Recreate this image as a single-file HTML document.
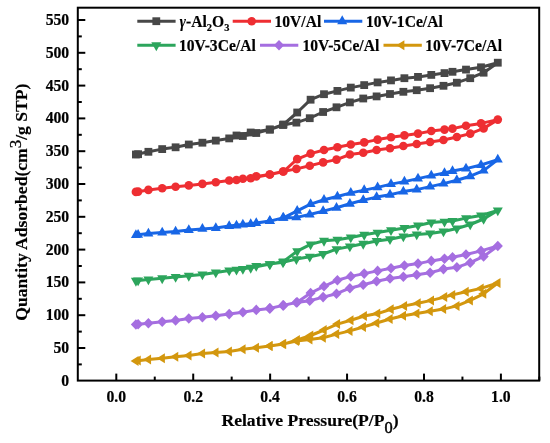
<!DOCTYPE html>
<html><head><meta charset="utf-8"><title>Isotherms</title>
<style>html,body{margin:0;padding:0;background:#fff;width:550px;height:443px;overflow:hidden}svg{display:block}</style>
</head><body>
<svg width="550" height="443" viewBox="0 0 550 443">
<style>
text{font-family:"Liberation Serif","Times New Roman",serif;font-weight:bold;fill:#000;stroke:#000;stroke-width:0.18px}
.tl{font-size:15.7px}
.at{font-size:17.6px}
.lg{font-size:15.6px}
.ls{font-size:10.5px}
.gm{font-style:italic;font-weight:bold;stroke-width:0px}
.sub{font-size:16.4px;font-weight:normal;stroke-width:0.5px}
.sup{font-size:16.8px;font-weight:normal;stroke-width:0.3px}
</style>
<rect width="550" height="443" fill="#fff"/>
<path d="M135.90,154.50 L148.40,151.80 L162.20,149.10 L175.60,147.30 L188.80,144.50 L202.40,142.70 L215.80,140.60 L229.20,138.40 L242.88,136.00 L256.26,133.00 L269.63,129.60 L283.00,125.00 L296.38,122.60 L309.75,118.20 L323.12,112.00 L336.50,107.30 L349.87,102.40 L363.24,98.50 L376.61,96.40 L389.99,94.00 L403.36,91.80 L416.73,90.20 L430.11,88.20 L443.48,85.80 L456.85,82.70 L470.23,78.20 L483.60,72.70 L497.80,62.70 L481.00,67.30 L466.00,69.60 L452.50,71.80 L444.50,73.10 L431.30,74.90 L418.00,76.90 L404.40,78.20 L391.00,80.40 L377.60,82.40 L364.20,85.10 L350.80,87.60 L337.40,90.90 L324.00,94.20 L310.60,99.70 L297.20,112.50 L283.50,124.50 L270.00,129.50 L250.70,132.50 L236.50,135.50" fill="none" stroke="#474747" stroke-width="3" stroke-linejoin="round"/>
<rect x="134.20" y="150.30" width="7.8" height="7.8" fill="#474747"/>
<rect x="132.00" y="150.60" width="7.8" height="7.8" fill="#474747"/>
<rect x="144.50" y="147.90" width="7.8" height="7.8" fill="#474747"/>
<rect x="158.30" y="145.20" width="7.8" height="7.8" fill="#474747"/>
<rect x="171.70" y="143.40" width="7.8" height="7.8" fill="#474747"/>
<rect x="184.90" y="140.60" width="7.8" height="7.8" fill="#474747"/>
<rect x="198.50" y="138.80" width="7.8" height="7.8" fill="#474747"/>
<rect x="211.90" y="136.70" width="7.8" height="7.8" fill="#474747"/>
<rect x="225.30" y="134.50" width="7.8" height="7.8" fill="#474747"/>
<rect x="238.98" y="132.10" width="7.8" height="7.8" fill="#474747"/>
<rect x="252.36" y="129.10" width="7.8" height="7.8" fill="#474747"/>
<rect x="265.73" y="125.70" width="7.8" height="7.8" fill="#474747"/>
<rect x="279.10" y="121.10" width="7.8" height="7.8" fill="#474747"/>
<rect x="292.48" y="118.70" width="7.8" height="7.8" fill="#474747"/>
<rect x="305.85" y="114.30" width="7.8" height="7.8" fill="#474747"/>
<rect x="319.22" y="108.10" width="7.8" height="7.8" fill="#474747"/>
<rect x="332.60" y="103.40" width="7.8" height="7.8" fill="#474747"/>
<rect x="345.97" y="98.50" width="7.8" height="7.8" fill="#474747"/>
<rect x="359.34" y="94.60" width="7.8" height="7.8" fill="#474747"/>
<rect x="372.71" y="92.50" width="7.8" height="7.8" fill="#474747"/>
<rect x="386.09" y="90.10" width="7.8" height="7.8" fill="#474747"/>
<rect x="399.46" y="87.90" width="7.8" height="7.8" fill="#474747"/>
<rect x="412.83" y="86.30" width="7.8" height="7.8" fill="#474747"/>
<rect x="426.21" y="84.30" width="7.8" height="7.8" fill="#474747"/>
<rect x="439.58" y="81.90" width="7.8" height="7.8" fill="#474747"/>
<rect x="452.95" y="78.80" width="7.8" height="7.8" fill="#474747"/>
<rect x="466.33" y="74.30" width="7.8" height="7.8" fill="#474747"/>
<rect x="479.70" y="68.80" width="7.8" height="7.8" fill="#474747"/>
<rect x="493.90" y="58.80" width="7.8" height="7.8" fill="#474747"/>
<rect x="477.10" y="63.40" width="7.8" height="7.8" fill="#474747"/>
<rect x="462.10" y="65.70" width="7.8" height="7.8" fill="#474747"/>
<rect x="448.60" y="67.90" width="7.8" height="7.8" fill="#474747"/>
<rect x="440.60" y="69.20" width="7.8" height="7.8" fill="#474747"/>
<rect x="427.40" y="71.00" width="7.8" height="7.8" fill="#474747"/>
<rect x="414.10" y="73.00" width="7.8" height="7.8" fill="#474747"/>
<rect x="400.50" y="74.30" width="7.8" height="7.8" fill="#474747"/>
<rect x="387.10" y="76.50" width="7.8" height="7.8" fill="#474747"/>
<rect x="373.70" y="78.50" width="7.8" height="7.8" fill="#474747"/>
<rect x="360.30" y="81.20" width="7.8" height="7.8" fill="#474747"/>
<rect x="346.90" y="83.70" width="7.8" height="7.8" fill="#474747"/>
<rect x="333.50" y="87.00" width="7.8" height="7.8" fill="#474747"/>
<rect x="320.10" y="90.30" width="7.8" height="7.8" fill="#474747"/>
<rect x="306.70" y="95.80" width="7.8" height="7.8" fill="#474747"/>
<rect x="293.30" y="108.60" width="7.8" height="7.8" fill="#474747"/>
<rect x="279.60" y="120.60" width="7.8" height="7.8" fill="#474747"/>
<rect x="266.10" y="125.60" width="7.8" height="7.8" fill="#474747"/>
<rect x="246.80" y="128.60" width="7.8" height="7.8" fill="#474747"/>
<rect x="232.60" y="131.60" width="7.8" height="7.8" fill="#474747"/>
<path d="M135.90,191.90 L148.40,189.90 L162.20,188.30 L175.60,186.80 L188.80,185.40 L202.40,183.90 L215.80,182.30 L229.20,180.50 L242.88,178.70 L256.26,176.40 L269.63,174.50 L283.00,171.50 L296.38,168.90 L309.75,165.80 L323.12,162.40 L336.50,159.60 L349.87,154.50 L363.24,152.70 L376.61,150.00 L389.99,148.20 L403.36,146.00 L416.73,144.00 L430.11,142.00 L443.48,140.00 L456.85,137.00 L470.23,133.60 L483.60,128.40 L497.80,119.60 L481.00,123.40 L466.00,125.80 L452.50,128.60 L444.50,129.60 L431.30,131.00 L418.00,133.60 L404.40,135.40 L391.00,137.30 L377.60,139.60 L364.20,142.40 L350.80,144.50 L337.40,147.30 L324.00,150.00 L310.60,153.60 L297.20,159.10 L283.50,171.50 L270.00,174.50 L250.70,178.20 L236.50,180.00" fill="none" stroke="#ee2e32" stroke-width="3" stroke-linejoin="round"/>
<circle cx="138.10" cy="191.60" r="4.3" fill="#ee2e32"/>
<circle cx="135.90" cy="191.90" r="4.3" fill="#ee2e32"/>
<circle cx="148.40" cy="189.90" r="4.3" fill="#ee2e32"/>
<circle cx="162.20" cy="188.30" r="4.3" fill="#ee2e32"/>
<circle cx="175.60" cy="186.80" r="4.3" fill="#ee2e32"/>
<circle cx="188.80" cy="185.40" r="4.3" fill="#ee2e32"/>
<circle cx="202.40" cy="183.90" r="4.3" fill="#ee2e32"/>
<circle cx="215.80" cy="182.30" r="4.3" fill="#ee2e32"/>
<circle cx="229.20" cy="180.50" r="4.3" fill="#ee2e32"/>
<circle cx="242.88" cy="178.70" r="4.3" fill="#ee2e32"/>
<circle cx="256.26" cy="176.40" r="4.3" fill="#ee2e32"/>
<circle cx="269.63" cy="174.50" r="4.3" fill="#ee2e32"/>
<circle cx="283.00" cy="171.50" r="4.3" fill="#ee2e32"/>
<circle cx="296.38" cy="168.90" r="4.3" fill="#ee2e32"/>
<circle cx="309.75" cy="165.80" r="4.3" fill="#ee2e32"/>
<circle cx="323.12" cy="162.40" r="4.3" fill="#ee2e32"/>
<circle cx="336.50" cy="159.60" r="4.3" fill="#ee2e32"/>
<circle cx="349.87" cy="154.50" r="4.3" fill="#ee2e32"/>
<circle cx="363.24" cy="152.70" r="4.3" fill="#ee2e32"/>
<circle cx="376.61" cy="150.00" r="4.3" fill="#ee2e32"/>
<circle cx="389.99" cy="148.20" r="4.3" fill="#ee2e32"/>
<circle cx="403.36" cy="146.00" r="4.3" fill="#ee2e32"/>
<circle cx="416.73" cy="144.00" r="4.3" fill="#ee2e32"/>
<circle cx="430.11" cy="142.00" r="4.3" fill="#ee2e32"/>
<circle cx="443.48" cy="140.00" r="4.3" fill="#ee2e32"/>
<circle cx="456.85" cy="137.00" r="4.3" fill="#ee2e32"/>
<circle cx="470.23" cy="133.60" r="4.3" fill="#ee2e32"/>
<circle cx="483.60" cy="128.40" r="4.3" fill="#ee2e32"/>
<circle cx="497.80" cy="119.60" r="4.3" fill="#ee2e32"/>
<circle cx="481.00" cy="123.40" r="4.3" fill="#ee2e32"/>
<circle cx="466.00" cy="125.80" r="4.3" fill="#ee2e32"/>
<circle cx="452.50" cy="128.60" r="4.3" fill="#ee2e32"/>
<circle cx="444.50" cy="129.60" r="4.3" fill="#ee2e32"/>
<circle cx="431.30" cy="131.00" r="4.3" fill="#ee2e32"/>
<circle cx="418.00" cy="133.60" r="4.3" fill="#ee2e32"/>
<circle cx="404.40" cy="135.40" r="4.3" fill="#ee2e32"/>
<circle cx="391.00" cy="137.30" r="4.3" fill="#ee2e32"/>
<circle cx="377.60" cy="139.60" r="4.3" fill="#ee2e32"/>
<circle cx="364.20" cy="142.40" r="4.3" fill="#ee2e32"/>
<circle cx="350.80" cy="144.50" r="4.3" fill="#ee2e32"/>
<circle cx="337.40" cy="147.30" r="4.3" fill="#ee2e32"/>
<circle cx="324.00" cy="150.00" r="4.3" fill="#ee2e32"/>
<circle cx="310.60" cy="153.60" r="4.3" fill="#ee2e32"/>
<circle cx="297.20" cy="159.10" r="4.3" fill="#ee2e32"/>
<circle cx="283.50" cy="171.50" r="4.3" fill="#ee2e32"/>
<circle cx="270.00" cy="174.50" r="4.3" fill="#ee2e32"/>
<circle cx="250.70" cy="178.20" r="4.3" fill="#ee2e32"/>
<circle cx="236.50" cy="180.00" r="4.3" fill="#ee2e32"/>
<path d="M135.90,235.10 L148.40,233.60 L162.20,232.60 L175.60,231.60 L188.80,230.10 L202.40,228.90 L215.80,228.00 L229.20,226.10 L242.88,224.50 L256.26,223.10 L269.63,221.10 L283.00,217.90 L296.38,217.40 L309.75,214.50 L323.12,211.10 L336.50,207.80 L349.87,203.80 L363.24,200.10 L376.61,197.10 L389.99,194.70 L403.36,191.60 L416.73,189.60 L430.11,186.60 L443.48,183.60 L456.85,180.20 L470.23,176.20 L483.60,170.60 L497.80,159.60 L481.00,165.00 L466.00,168.60 L452.50,171.00 L444.50,173.00 L431.30,175.60 L418.00,178.60 L404.40,181.60 L391.00,184.10 L377.60,187.40 L364.20,190.10 L350.80,192.90 L337.40,196.50 L324.00,199.80 L310.60,204.10 L297.20,210.90 L283.50,217.90 L270.00,221.10 L250.70,224.00 L236.50,225.60" fill="none" stroke="#1866e6" stroke-width="3" stroke-linejoin="round"/>
<polygon points="138.10,228.93 143.10,237.73 133.10,237.73" fill="#1866e6"/>
<polygon points="135.90,229.23 140.90,238.03 130.90,238.03" fill="#1866e6"/>
<polygon points="148.40,227.73 153.40,236.53 143.40,236.53" fill="#1866e6"/>
<polygon points="162.20,226.73 167.20,235.53 157.20,235.53" fill="#1866e6"/>
<polygon points="175.60,225.73 180.60,234.53 170.60,234.53" fill="#1866e6"/>
<polygon points="188.80,224.23 193.80,233.03 183.80,233.03" fill="#1866e6"/>
<polygon points="202.40,223.03 207.40,231.83 197.40,231.83" fill="#1866e6"/>
<polygon points="215.80,222.13 220.80,230.93 210.80,230.93" fill="#1866e6"/>
<polygon points="229.20,220.23 234.20,229.03 224.20,229.03" fill="#1866e6"/>
<polygon points="242.88,218.63 247.88,227.43 237.88,227.43" fill="#1866e6"/>
<polygon points="256.26,217.23 261.26,226.03 251.26,226.03" fill="#1866e6"/>
<polygon points="269.63,215.23 274.63,224.03 264.63,224.03" fill="#1866e6"/>
<polygon points="283.00,212.03 288.00,220.83 278.00,220.83" fill="#1866e6"/>
<polygon points="296.38,211.53 301.38,220.33 291.38,220.33" fill="#1866e6"/>
<polygon points="309.75,208.63 314.75,217.43 304.75,217.43" fill="#1866e6"/>
<polygon points="323.12,205.23 328.12,214.03 318.12,214.03" fill="#1866e6"/>
<polygon points="336.50,201.93 341.50,210.73 331.50,210.73" fill="#1866e6"/>
<polygon points="349.87,197.93 354.87,206.73 344.87,206.73" fill="#1866e6"/>
<polygon points="363.24,194.23 368.24,203.03 358.24,203.03" fill="#1866e6"/>
<polygon points="376.61,191.23 381.61,200.03 371.61,200.03" fill="#1866e6"/>
<polygon points="389.99,188.83 394.99,197.63 384.99,197.63" fill="#1866e6"/>
<polygon points="403.36,185.73 408.36,194.53 398.36,194.53" fill="#1866e6"/>
<polygon points="416.73,183.73 421.73,192.53 411.73,192.53" fill="#1866e6"/>
<polygon points="430.11,180.73 435.11,189.53 425.11,189.53" fill="#1866e6"/>
<polygon points="443.48,177.73 448.48,186.53 438.48,186.53" fill="#1866e6"/>
<polygon points="456.85,174.33 461.85,183.13 451.85,183.13" fill="#1866e6"/>
<polygon points="470.23,170.33 475.23,179.13 465.23,179.13" fill="#1866e6"/>
<polygon points="483.60,164.73 488.60,173.53 478.60,173.53" fill="#1866e6"/>
<polygon points="497.80,153.73 502.80,162.53 492.80,162.53" fill="#1866e6"/>
<polygon points="481.00,159.13 486.00,167.93 476.00,167.93" fill="#1866e6"/>
<polygon points="466.00,162.73 471.00,171.53 461.00,171.53" fill="#1866e6"/>
<polygon points="452.50,165.13 457.50,173.93 447.50,173.93" fill="#1866e6"/>
<polygon points="444.50,167.13 449.50,175.93 439.50,175.93" fill="#1866e6"/>
<polygon points="431.30,169.73 436.30,178.53 426.30,178.53" fill="#1866e6"/>
<polygon points="418.00,172.73 423.00,181.53 413.00,181.53" fill="#1866e6"/>
<polygon points="404.40,175.73 409.40,184.53 399.40,184.53" fill="#1866e6"/>
<polygon points="391.00,178.23 396.00,187.03 386.00,187.03" fill="#1866e6"/>
<polygon points="377.60,181.53 382.60,190.33 372.60,190.33" fill="#1866e6"/>
<polygon points="364.20,184.23 369.20,193.03 359.20,193.03" fill="#1866e6"/>
<polygon points="350.80,187.03 355.80,195.83 345.80,195.83" fill="#1866e6"/>
<polygon points="337.40,190.63 342.40,199.43 332.40,199.43" fill="#1866e6"/>
<polygon points="324.00,193.93 329.00,202.73 319.00,202.73" fill="#1866e6"/>
<polygon points="310.60,198.23 315.60,207.03 305.60,207.03" fill="#1866e6"/>
<polygon points="297.20,205.03 302.20,213.83 292.20,213.83" fill="#1866e6"/>
<polygon points="283.50,212.03 288.50,220.83 278.50,220.83" fill="#1866e6"/>
<polygon points="270.00,215.23 275.00,224.03 265.00,224.03" fill="#1866e6"/>
<polygon points="250.70,218.13 255.70,226.93 245.70,226.93" fill="#1866e6"/>
<polygon points="236.50,219.73 241.50,228.53 231.50,228.53" fill="#1866e6"/>
<path d="M135.90,280.80 L148.40,279.50 L162.20,278.30 L175.60,277.00 L188.80,275.80 L202.40,274.50 L215.80,272.50 L229.20,270.50 L242.88,269.00 L256.26,266.00 L269.63,264.10 L283.00,262.30 L296.38,259.10 L309.75,256.70 L323.12,254.00 L336.50,249.10 L349.87,246.50 L363.24,243.80 L376.61,241.00 L389.99,239.20 L403.36,236.50 L416.73,234.50 L430.11,233.50 L443.48,231.50 L456.85,228.50 L470.23,224.50 L483.60,219.00 L497.80,210.50 L481.00,215.50 L466.00,218.10 L452.50,221.00 L444.50,221.60 L431.30,222.50 L418.00,225.50 L404.40,228.00 L391.00,230.20 L377.60,232.60 L364.20,234.80 L350.80,237.50 L337.40,239.70 L324.00,240.80 L310.60,244.40 L297.20,251.20 L283.50,261.40 L270.00,264.10 L250.70,267.80 L236.50,269.60" fill="none" stroke="#2ca55c" stroke-width="3" stroke-linejoin="round"/>
<polygon points="138.10,286.37 143.10,277.57 133.10,277.57" fill="#2ca55c"/>
<polygon points="135.90,286.67 140.90,277.87 130.90,277.87" fill="#2ca55c"/>
<polygon points="148.40,285.37 153.40,276.57 143.40,276.57" fill="#2ca55c"/>
<polygon points="162.20,284.17 167.20,275.37 157.20,275.37" fill="#2ca55c"/>
<polygon points="175.60,282.87 180.60,274.07 170.60,274.07" fill="#2ca55c"/>
<polygon points="188.80,281.67 193.80,272.87 183.80,272.87" fill="#2ca55c"/>
<polygon points="202.40,280.37 207.40,271.57 197.40,271.57" fill="#2ca55c"/>
<polygon points="215.80,278.37 220.80,269.57 210.80,269.57" fill="#2ca55c"/>
<polygon points="229.20,276.37 234.20,267.57 224.20,267.57" fill="#2ca55c"/>
<polygon points="242.88,274.87 247.88,266.07 237.88,266.07" fill="#2ca55c"/>
<polygon points="256.26,271.87 261.26,263.07 251.26,263.07" fill="#2ca55c"/>
<polygon points="269.63,269.97 274.63,261.17 264.63,261.17" fill="#2ca55c"/>
<polygon points="283.00,268.17 288.00,259.37 278.00,259.37" fill="#2ca55c"/>
<polygon points="296.38,264.97 301.38,256.17 291.38,256.17" fill="#2ca55c"/>
<polygon points="309.75,262.57 314.75,253.77 304.75,253.77" fill="#2ca55c"/>
<polygon points="323.12,259.87 328.12,251.07 318.12,251.07" fill="#2ca55c"/>
<polygon points="336.50,254.97 341.50,246.17 331.50,246.17" fill="#2ca55c"/>
<polygon points="349.87,252.37 354.87,243.57 344.87,243.57" fill="#2ca55c"/>
<polygon points="363.24,249.67 368.24,240.87 358.24,240.87" fill="#2ca55c"/>
<polygon points="376.61,246.87 381.61,238.07 371.61,238.07" fill="#2ca55c"/>
<polygon points="389.99,245.07 394.99,236.27 384.99,236.27" fill="#2ca55c"/>
<polygon points="403.36,242.37 408.36,233.57 398.36,233.57" fill="#2ca55c"/>
<polygon points="416.73,240.37 421.73,231.57 411.73,231.57" fill="#2ca55c"/>
<polygon points="430.11,239.37 435.11,230.57 425.11,230.57" fill="#2ca55c"/>
<polygon points="443.48,237.37 448.48,228.57 438.48,228.57" fill="#2ca55c"/>
<polygon points="456.85,234.37 461.85,225.57 451.85,225.57" fill="#2ca55c"/>
<polygon points="470.23,230.37 475.23,221.57 465.23,221.57" fill="#2ca55c"/>
<polygon points="483.60,224.87 488.60,216.07 478.60,216.07" fill="#2ca55c"/>
<polygon points="497.80,216.37 502.80,207.57 492.80,207.57" fill="#2ca55c"/>
<polygon points="481.00,221.37 486.00,212.57 476.00,212.57" fill="#2ca55c"/>
<polygon points="466.00,223.97 471.00,215.17 461.00,215.17" fill="#2ca55c"/>
<polygon points="452.50,226.87 457.50,218.07 447.50,218.07" fill="#2ca55c"/>
<polygon points="444.50,227.47 449.50,218.67 439.50,218.67" fill="#2ca55c"/>
<polygon points="431.30,228.37 436.30,219.57 426.30,219.57" fill="#2ca55c"/>
<polygon points="418.00,231.37 423.00,222.57 413.00,222.57" fill="#2ca55c"/>
<polygon points="404.40,233.87 409.40,225.07 399.40,225.07" fill="#2ca55c"/>
<polygon points="391.00,236.07 396.00,227.27 386.00,227.27" fill="#2ca55c"/>
<polygon points="377.60,238.47 382.60,229.67 372.60,229.67" fill="#2ca55c"/>
<polygon points="364.20,240.67 369.20,231.87 359.20,231.87" fill="#2ca55c"/>
<polygon points="350.80,243.37 355.80,234.57 345.80,234.57" fill="#2ca55c"/>
<polygon points="337.40,245.57 342.40,236.77 332.40,236.77" fill="#2ca55c"/>
<polygon points="324.00,246.67 329.00,237.87 319.00,237.87" fill="#2ca55c"/>
<polygon points="310.60,250.27 315.60,241.47 305.60,241.47" fill="#2ca55c"/>
<polygon points="297.20,257.07 302.20,248.27 292.20,248.27" fill="#2ca55c"/>
<polygon points="283.50,267.27 288.50,258.47 278.50,258.47" fill="#2ca55c"/>
<polygon points="270.00,269.97 275.00,261.17 265.00,261.17" fill="#2ca55c"/>
<polygon points="250.70,273.67 255.70,264.87 245.70,264.87" fill="#2ca55c"/>
<polygon points="236.50,275.47 241.50,266.67 231.50,266.67" fill="#2ca55c"/>
<path d="M135.90,324.50 L148.40,323.30 L162.20,321.80 L175.60,320.40 L188.80,318.50 L202.40,317.30 L215.80,315.70 L229.20,314.10 L242.88,312.30 L256.26,309.90 L269.63,308.40 L283.00,305.40 L296.38,302.50 L309.75,300.70 L323.12,297.10 L336.50,293.70 L349.87,288.20 L363.24,284.80 L376.61,281.20 L389.99,278.50 L403.36,276.70 L416.73,274.80 L430.11,272.70 L443.48,269.10 L456.85,267.30 L470.23,262.70 L483.60,256.40 L497.80,246.00 L481.00,250.90 L466.00,254.50 L452.50,257.30 L444.50,258.70 L431.30,260.90 L418.00,263.60 L404.40,265.50 L391.00,268.20 L377.60,270.90 L364.20,273.60 L350.80,276.40 L337.40,280.20 L324.00,286.30 L310.60,293.00 L297.20,302.30 L283.50,305.40 L270.00,308.40" fill="none" stroke="#a56ee0" stroke-width="3" stroke-linejoin="round"/>
<polygon points="138.10,318.90 143.20,324.20 138.10,329.50 133.00,324.20" fill="#a56ee0"/>
<polygon points="135.90,319.20 141.00,324.50 135.90,329.80 130.80,324.50" fill="#a56ee0"/>
<polygon points="148.40,318.00 153.50,323.30 148.40,328.60 143.30,323.30" fill="#a56ee0"/>
<polygon points="162.20,316.50 167.30,321.80 162.20,327.10 157.10,321.80" fill="#a56ee0"/>
<polygon points="175.60,315.10 180.70,320.40 175.60,325.70 170.50,320.40" fill="#a56ee0"/>
<polygon points="188.80,313.20 193.90,318.50 188.80,323.80 183.70,318.50" fill="#a56ee0"/>
<polygon points="202.40,312.00 207.50,317.30 202.40,322.60 197.30,317.30" fill="#a56ee0"/>
<polygon points="215.80,310.40 220.90,315.70 215.80,321.00 210.70,315.70" fill="#a56ee0"/>
<polygon points="229.20,308.80 234.30,314.10 229.20,319.40 224.10,314.10" fill="#a56ee0"/>
<polygon points="242.88,307.00 247.98,312.30 242.88,317.60 237.78,312.30" fill="#a56ee0"/>
<polygon points="256.26,304.60 261.36,309.90 256.26,315.20 251.16,309.90" fill="#a56ee0"/>
<polygon points="269.63,303.10 274.73,308.40 269.63,313.70 264.53,308.40" fill="#a56ee0"/>
<polygon points="283.00,300.10 288.10,305.40 283.00,310.70 277.90,305.40" fill="#a56ee0"/>
<polygon points="296.38,297.20 301.48,302.50 296.38,307.80 291.28,302.50" fill="#a56ee0"/>
<polygon points="309.75,295.40 314.85,300.70 309.75,306.00 304.65,300.70" fill="#a56ee0"/>
<polygon points="323.12,291.80 328.22,297.10 323.12,302.40 318.02,297.10" fill="#a56ee0"/>
<polygon points="336.50,288.40 341.60,293.70 336.50,299.00 331.39,293.70" fill="#a56ee0"/>
<polygon points="349.87,282.90 354.97,288.20 349.87,293.50 344.77,288.20" fill="#a56ee0"/>
<polygon points="363.24,279.50 368.34,284.80 363.24,290.10 358.14,284.80" fill="#a56ee0"/>
<polygon points="376.61,275.90 381.71,281.20 376.61,286.50 371.51,281.20" fill="#a56ee0"/>
<polygon points="389.99,273.20 395.09,278.50 389.99,283.80 384.89,278.50" fill="#a56ee0"/>
<polygon points="403.36,271.40 408.46,276.70 403.36,282.00 398.26,276.70" fill="#a56ee0"/>
<polygon points="416.73,269.50 421.83,274.80 416.73,280.10 411.63,274.80" fill="#a56ee0"/>
<polygon points="430.11,267.40 435.21,272.70 430.11,278.00 425.01,272.70" fill="#a56ee0"/>
<polygon points="443.48,263.80 448.58,269.10 443.48,274.40 438.38,269.10" fill="#a56ee0"/>
<polygon points="456.85,262.00 461.95,267.30 456.85,272.60 451.75,267.30" fill="#a56ee0"/>
<polygon points="470.23,257.40 475.33,262.70 470.23,268.00 465.12,262.70" fill="#a56ee0"/>
<polygon points="483.60,251.10 488.70,256.40 483.60,261.70 478.50,256.40" fill="#a56ee0"/>
<polygon points="497.80,240.70 502.90,246.00 497.80,251.30 492.70,246.00" fill="#a56ee0"/>
<polygon points="481.00,245.60 486.10,250.90 481.00,256.20 475.90,250.90" fill="#a56ee0"/>
<polygon points="466.00,249.20 471.10,254.50 466.00,259.80 460.90,254.50" fill="#a56ee0"/>
<polygon points="452.50,252.00 457.60,257.30 452.50,262.60 447.40,257.30" fill="#a56ee0"/>
<polygon points="444.50,253.40 449.60,258.70 444.50,264.00 439.40,258.70" fill="#a56ee0"/>
<polygon points="431.30,255.60 436.40,260.90 431.30,266.20 426.20,260.90" fill="#a56ee0"/>
<polygon points="418.00,258.30 423.10,263.60 418.00,268.90 412.90,263.60" fill="#a56ee0"/>
<polygon points="404.40,260.20 409.50,265.50 404.40,270.80 399.30,265.50" fill="#a56ee0"/>
<polygon points="391.00,262.90 396.10,268.20 391.00,273.50 385.90,268.20" fill="#a56ee0"/>
<polygon points="377.60,265.60 382.70,270.90 377.60,276.20 372.50,270.90" fill="#a56ee0"/>
<polygon points="364.20,268.30 369.30,273.60 364.20,278.90 359.10,273.60" fill="#a56ee0"/>
<polygon points="350.80,271.10 355.90,276.40 350.80,281.70 345.70,276.40" fill="#a56ee0"/>
<polygon points="337.40,274.90 342.50,280.20 337.40,285.50 332.30,280.20" fill="#a56ee0"/>
<polygon points="324.00,281.00 329.10,286.30 324.00,291.60 318.90,286.30" fill="#a56ee0"/>
<polygon points="310.60,287.70 315.70,293.00 310.60,298.30 305.50,293.00" fill="#a56ee0"/>
<polygon points="297.20,297.00 302.30,302.30 297.20,307.60 292.10,302.30" fill="#a56ee0"/>
<polygon points="283.50,300.10 288.60,305.40 283.50,310.70 278.40,305.40" fill="#a56ee0"/>
<polygon points="270.00,303.10 275.10,308.40 270.00,313.70 264.90,308.40" fill="#a56ee0"/>
<path d="M135.90,360.90 L148.40,359.60 L162.20,358.20 L175.60,356.70 L188.80,355.50 L202.40,353.60 L215.80,352.40 L229.20,351.40 L242.88,349.20 L256.26,347.70 L269.63,345.90 L283.00,344.10 L296.38,341.00 L309.75,339.50 L323.12,337.70 L336.50,334.10 L349.87,330.90 L363.24,327.00 L376.61,323.00 L389.99,319.00 L403.36,315.70 L416.73,313.50 L430.11,311.30 L443.48,309.10 L456.85,305.90 L470.23,300.40 L483.60,293.80 L497.80,283.00 L481.00,288.40 L466.00,291.70 L452.50,294.90 L444.50,297.10 L431.30,300.40 L418.00,303.20 L404.40,305.90 L391.00,309.30 L377.60,313.60 L364.20,316.00 L350.80,320.30 L337.40,324.10 L324.00,330.00 L310.60,335.50 L297.20,340.00 L283.50,344.10 L270.00,345.90" fill="none" stroke="#d3970e" stroke-width="3" stroke-linejoin="round"/>
<polygon points="132.77,360.60 140.77,355.60 140.77,365.60" fill="#d3970e"/>
<polygon points="130.57,360.90 138.57,355.90 138.57,365.90" fill="#d3970e"/>
<polygon points="143.07,359.60 151.07,354.60 151.07,364.60" fill="#d3970e"/>
<polygon points="156.87,358.20 164.87,353.20 164.87,363.20" fill="#d3970e"/>
<polygon points="170.27,356.70 178.27,351.70 178.27,361.70" fill="#d3970e"/>
<polygon points="183.47,355.50 191.47,350.50 191.47,360.50" fill="#d3970e"/>
<polygon points="197.07,353.60 205.07,348.60 205.07,358.60" fill="#d3970e"/>
<polygon points="210.47,352.40 218.47,347.40 218.47,357.40" fill="#d3970e"/>
<polygon points="223.87,351.40 231.87,346.40 231.87,356.40" fill="#d3970e"/>
<polygon points="237.55,349.20 245.55,344.20 245.55,354.20" fill="#d3970e"/>
<polygon points="250.92,347.70 258.92,342.70 258.92,352.70" fill="#d3970e"/>
<polygon points="264.30,345.90 272.30,340.90 272.30,350.90" fill="#d3970e"/>
<polygon points="277.67,344.10 285.67,339.10 285.67,349.10" fill="#d3970e"/>
<polygon points="291.04,341.00 299.04,336.00 299.04,346.00" fill="#d3970e"/>
<polygon points="304.42,339.50 312.42,334.50 312.42,344.50" fill="#d3970e"/>
<polygon points="317.79,337.70 325.79,332.70 325.79,342.70" fill="#d3970e"/>
<polygon points="331.16,334.10 339.16,329.10 339.16,339.10" fill="#d3970e"/>
<polygon points="344.53,330.90 352.53,325.90 352.53,335.90" fill="#d3970e"/>
<polygon points="357.91,327.00 365.91,322.00 365.91,332.00" fill="#d3970e"/>
<polygon points="371.28,323.00 379.28,318.00 379.28,328.00" fill="#d3970e"/>
<polygon points="384.65,319.00 392.65,314.00 392.65,324.00" fill="#d3970e"/>
<polygon points="398.03,315.70 406.03,310.70 406.03,320.70" fill="#d3970e"/>
<polygon points="411.40,313.50 419.40,308.50 419.40,318.50" fill="#d3970e"/>
<polygon points="424.77,311.30 432.77,306.30 432.77,316.30" fill="#d3970e"/>
<polygon points="438.15,309.10 446.15,304.10 446.15,314.10" fill="#d3970e"/>
<polygon points="451.52,305.90 459.52,300.90 459.52,310.90" fill="#d3970e"/>
<polygon points="464.89,300.40 472.89,295.40 472.89,305.40" fill="#d3970e"/>
<polygon points="478.26,293.80 486.26,288.80 486.26,298.80" fill="#d3970e"/>
<polygon points="492.47,283.00 500.47,278.00 500.47,288.00" fill="#d3970e"/>
<polygon points="475.67,288.40 483.67,283.40 483.67,293.40" fill="#d3970e"/>
<polygon points="460.67,291.70 468.67,286.70 468.67,296.70" fill="#d3970e"/>
<polygon points="447.17,294.90 455.17,289.90 455.17,299.90" fill="#d3970e"/>
<polygon points="439.17,297.10 447.17,292.10 447.17,302.10" fill="#d3970e"/>
<polygon points="425.97,300.40 433.97,295.40 433.97,305.40" fill="#d3970e"/>
<polygon points="412.67,303.20 420.67,298.20 420.67,308.20" fill="#d3970e"/>
<polygon points="399.07,305.90 407.07,300.90 407.07,310.90" fill="#d3970e"/>
<polygon points="385.67,309.30 393.67,304.30 393.67,314.30" fill="#d3970e"/>
<polygon points="372.27,313.60 380.27,308.60 380.27,318.60" fill="#d3970e"/>
<polygon points="358.87,316.00 366.87,311.00 366.87,321.00" fill="#d3970e"/>
<polygon points="345.47,320.30 353.47,315.30 353.47,325.30" fill="#d3970e"/>
<polygon points="332.07,324.10 340.07,319.10 340.07,329.10" fill="#d3970e"/>
<polygon points="318.67,330.00 326.67,325.00 326.67,335.00" fill="#d3970e"/>
<polygon points="305.27,335.50 313.27,330.50 313.27,340.50" fill="#d3970e"/>
<polygon points="291.87,340.00 299.87,335.00 299.87,345.00" fill="#d3970e"/>
<polygon points="278.17,344.10 286.17,339.10 286.17,349.10" fill="#d3970e"/>
<polygon points="264.67,345.90 272.67,340.90 272.67,350.90" fill="#d3970e"/>
<rect x="77.8" y="7.7" width="461.40000000000003" height="372.90000000000003" fill="none" stroke="#000" stroke-width="2"/>
<text x="69.2" y="385.80" text-anchor="end" class="tl">0</text>
<line x1="77.8" y1="364.40" x2="81.8" y2="364.40" stroke="#000" stroke-width="2"/>
<line x1="77.8" y1="348.00" x2="85.3" y2="348.00" stroke="#000" stroke-width="2"/>
<text x="69.2" y="353.00" text-anchor="end" class="tl">50</text>
<line x1="77.8" y1="331.60" x2="81.8" y2="331.60" stroke="#000" stroke-width="2"/>
<line x1="77.8" y1="315.20" x2="85.3" y2="315.20" stroke="#000" stroke-width="2"/>
<text x="69.2" y="320.20" text-anchor="end" class="tl">100</text>
<line x1="77.8" y1="298.80" x2="81.8" y2="298.80" stroke="#000" stroke-width="2"/>
<line x1="77.8" y1="282.40" x2="85.3" y2="282.40" stroke="#000" stroke-width="2"/>
<text x="69.2" y="287.40" text-anchor="end" class="tl">150</text>
<line x1="77.8" y1="266.00" x2="81.8" y2="266.00" stroke="#000" stroke-width="2"/>
<line x1="77.8" y1="249.60" x2="85.3" y2="249.60" stroke="#000" stroke-width="2"/>
<text x="69.2" y="254.60" text-anchor="end" class="tl">200</text>
<line x1="77.8" y1="233.20" x2="81.8" y2="233.20" stroke="#000" stroke-width="2"/>
<line x1="77.8" y1="216.80" x2="85.3" y2="216.80" stroke="#000" stroke-width="2"/>
<text x="69.2" y="221.80" text-anchor="end" class="tl">250</text>
<line x1="77.8" y1="200.40" x2="81.8" y2="200.40" stroke="#000" stroke-width="2"/>
<line x1="77.8" y1="184.00" x2="85.3" y2="184.00" stroke="#000" stroke-width="2"/>
<text x="69.2" y="189.00" text-anchor="end" class="tl">300</text>
<line x1="77.8" y1="167.60" x2="81.8" y2="167.60" stroke="#000" stroke-width="2"/>
<line x1="77.8" y1="151.20" x2="85.3" y2="151.20" stroke="#000" stroke-width="2"/>
<text x="69.2" y="156.20" text-anchor="end" class="tl">350</text>
<line x1="77.8" y1="134.80" x2="81.8" y2="134.80" stroke="#000" stroke-width="2"/>
<line x1="77.8" y1="118.40" x2="85.3" y2="118.40" stroke="#000" stroke-width="2"/>
<text x="69.2" y="123.40" text-anchor="end" class="tl">400</text>
<line x1="77.8" y1="102.00" x2="81.8" y2="102.00" stroke="#000" stroke-width="2"/>
<line x1="77.8" y1="85.60" x2="85.3" y2="85.60" stroke="#000" stroke-width="2"/>
<text x="69.2" y="90.60" text-anchor="end" class="tl">450</text>
<line x1="77.8" y1="69.20" x2="81.8" y2="69.20" stroke="#000" stroke-width="2"/>
<line x1="77.8" y1="52.80" x2="85.3" y2="52.80" stroke="#000" stroke-width="2"/>
<text x="69.2" y="57.80" text-anchor="end" class="tl">500</text>
<line x1="77.8" y1="36.40" x2="81.8" y2="36.40" stroke="#000" stroke-width="2"/>
<line x1="77.8" y1="20.00" x2="85.3" y2="20.00" stroke="#000" stroke-width="2"/>
<text x="69.2" y="25.00" text-anchor="end" class="tl">550</text>
<line x1="116.30" y1="380.6" x2="116.30" y2="373.6" stroke="#000" stroke-width="2"/>
<text x="116.30" y="401.5" text-anchor="middle" class="tl">0.0</text>
<line x1="193.22" y1="380.6" x2="193.22" y2="373.6" stroke="#000" stroke-width="2"/>
<text x="193.22" y="401.5" text-anchor="middle" class="tl">0.2</text>
<line x1="270.14" y1="380.6" x2="270.14" y2="373.6" stroke="#000" stroke-width="2"/>
<text x="270.14" y="401.5" text-anchor="middle" class="tl">0.4</text>
<line x1="347.06" y1="380.6" x2="347.06" y2="373.6" stroke="#000" stroke-width="2"/>
<text x="347.06" y="401.5" text-anchor="middle" class="tl">0.6</text>
<line x1="423.98" y1="380.6" x2="423.98" y2="373.6" stroke="#000" stroke-width="2"/>
<text x="423.98" y="401.5" text-anchor="middle" class="tl">0.8</text>
<line x1="500.90" y1="380.6" x2="500.90" y2="373.6" stroke="#000" stroke-width="2"/>
<text x="500.90" y="401.5" text-anchor="middle" class="tl">1.0</text>
<line x1="154.76" y1="380.6" x2="154.76" y2="376.6" stroke="#000" stroke-width="2"/>
<line x1="231.68" y1="380.6" x2="231.68" y2="376.6" stroke="#000" stroke-width="2"/>
<line x1="308.60" y1="380.6" x2="308.60" y2="376.6" stroke="#000" stroke-width="2"/>
<line x1="385.52" y1="380.6" x2="385.52" y2="376.6" stroke="#000" stroke-width="2"/>
<line x1="462.44" y1="380.6" x2="462.44" y2="376.6" stroke="#000" stroke-width="2"/>
<line x1="539.36" y1="380.6" x2="539.36" y2="376.6" stroke="#000" stroke-width="2"/>
<text x="310" y="425.5" text-anchor="middle" class="at">Relative Pressure(P/P<tspan class="sub" dy="7">0</tspan><tspan dy="-7">)</tspan></text>
<text transform="translate(27.3,202.2) rotate(-90)" text-anchor="middle" class="at">Quantity Adsorbed(cm<tspan class="sup" dy="-6">3</tspan><tspan dy="6">/g STP)</tspan></text>
<line x1="137.3" y1="21.2" x2="175.60000000000002" y2="21.2" stroke="#474747" stroke-width="2.9"/>
<rect x="152.40" y="17.30" width="7.8" height="7.8" fill="#474747"/>
<text transform="translate(179.6,26.799999999999997) scale(1,1.07)" class="lg"><tspan class="gm">γ</tspan>-Al<tspan class="ls" dy="4.3">2</tspan><tspan dy="-4.3">O</tspan><tspan class="ls" dy="4.3">3</tspan></text>
<line x1="232.7" y1="21.2" x2="271.0" y2="21.2" stroke="#ee2e32" stroke-width="2.9"/>
<circle cx="251.70" cy="21.20" r="4.3" fill="#ee2e32"/>
<text transform="translate(274.5,26.799999999999997) scale(1,1.07)" class="lg">10V/Al</text>
<line x1="324" y1="21.2" x2="362.3" y2="21.2" stroke="#1866e6" stroke-width="2.9"/>
<polygon points="342.20,15.33 347.20,24.13 337.20,24.13" fill="#1866e6"/>
<text transform="translate(366,26.799999999999997) scale(1,1.07)" class="lg">10V-1Ce/Al</text>
<line x1="137.3" y1="45.3" x2="175.60000000000002" y2="45.3" stroke="#2ca55c" stroke-width="2.9"/>
<polygon points="156.30,51.17 161.30,42.37 151.30,42.37" fill="#2ca55c"/>
<text transform="translate(179,50.9) scale(1,1.07)" class="lg">10V-3Ce/Al</text>
<line x1="260" y1="45.3" x2="298.3" y2="45.3" stroke="#a56ee0" stroke-width="2.9"/>
<polygon points="279.00,40.00 284.10,45.30 279.00,50.60 273.90,45.30" fill="#a56ee0"/>
<text transform="translate(302.5,50.9) scale(1,1.07)" class="lg">10V-5Ce/Al</text>
<line x1="383.5" y1="45.3" x2="421.8" y2="45.3" stroke="#d3970e" stroke-width="2.9"/>
<polygon points="396.37,45.30 404.37,40.30 404.37,50.30" fill="#d3970e"/>
<text transform="translate(425.2,50.9) scale(1,1.07)" class="lg">10V-7Ce/Al</text>
</svg>
</body></html>
